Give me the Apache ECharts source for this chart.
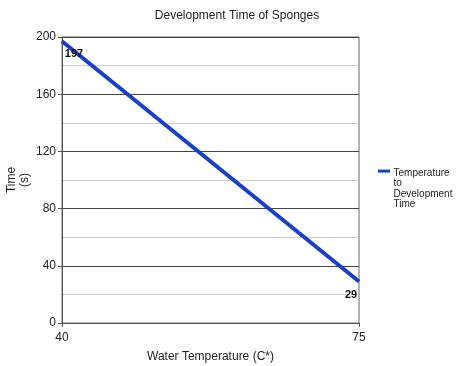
<!DOCTYPE html>
<html><head><meta charset="utf-8">
<script src="https://cdn.jsdelivr.net/npm/echarts@6/dist/echarts.min.js"></script>
<style>html,body{margin:0;padding:0;background:#fff}#c{width:474px;height:366px}</style>
</head><body><div id="c"></div>
<script>
const temperatures = [40, 75];
const times = [197, 29];
const xTickLabels = [40, 75];
const yTicks = [0, 40, 80, 120, 160, 200];
const seriesName = 'Temperature to Development Time';

const chart = echarts.init(document.getElementById('c'));
const font = 'Liberation Sans, Arial, sans-serif';
const ptLabel = (dx, dy, v) => ({show: true, position: 'inside', offset: [dx, dy], formatter: String(v),
  fontFamily: font, fontSize: 11, fontWeight: 'bold', color: '#111'});
chart.setOption({
  animation: false,
  title: {text: 'Development Time of Sponges', left: 'center', top: 5,
    textStyle: {fontFamily: font, fontSize: 12, fontWeight: 'normal', color: '#222'}},
  grid: {left: 62, right: 115, top: 37, bottom: 43, show: true, borderColor: '#666', borderWidth: 1,
    outerBoundsMode: 'none', containLabel: false},
  legend: {left: 378, top: 168, orient: 'vertical', padding: 0,
    data: [seriesName],
    icon: 'path://M0,0L12,0L12,3L0,3Z M0,38L0,38',
    itemWidth: 13, itemHeight: 38, itemGap: 2,
    formatter: () => 'Temperature\nto\nDevelopment\nTime',
    textStyle: {fontFamily: font, fontSize: 10, color: '#222', lineHeight: 10.3, padding: [0,0,0,-2]}},
  xAxis: {type: 'value', min: xTickLabels[0], max: xTickLabels[xTickLabels.length-1],
    name: 'Water Temperature (C*)', nameLocation: 'middle', nameGap: 28, nameMoveOverlap: false,
    nameTextStyle: {fontFamily: font, fontSize: 12, color: '#222'},
    axisLine: {show: true, lineStyle: {color: '#555'}},
    axisTick: {show: true, customValues: xTickLabels, length: 4, lineStyle: {color: '#555'}},
    axisLabel: {customValues: xTickLabels, fontFamily: font, fontSize: 12, color: '#222', margin: 9},
    splitLine: {show: false}},
  yAxis: {type: 'value', min: 0, max: 200, interval: 40,
    name: 'Time\n(s)', nameLocation: 'middle', nameGap: 31, nameRotate: 90, nameMoveOverlap: false,
    nameTextStyle: {fontFamily: font, fontSize: 12, color: '#222', lineHeight: 13},
    axisLine: {show: true, lineStyle: {color: '#555'}},
    axisTick: {show: true, length: 4, lineStyle: {color: '#555'}},
    axisLabel: {fontFamily: font, fontSize: 12, color: '#222', margin: 6},
    splitLine: {show: true, lineStyle: {color: '#444', width: 1}},
    minorTick: {show: false, splitNumber: 2},
    minorSplitLine: {show: true, lineStyle: {color: '#ccc', width: 1}}},
  series: [{
    name: seriesName, type: 'line', showSymbol: false, symbol: 'none',
    data: temperatures.map((t, i) => [t, times[i]]),
    lineStyle: {color: '#1a3fc8', width: 4}, itemStyle: {color: '#1a3fc8'},
    markPoint: {symbol: 'circle', symbolSize: 2, itemStyle: {color: 'rgba(0,0,0,0)'}, data: [
      {coord: [temperatures[0], times[0]], value: times[0], label: ptLabel(12, 13, times[0])},
      {coord: [temperatures[1], times[1]], value: times[1], label: ptLabel(-8, 13, times[1])}
    ]}
  }]
});
</script></body></html>
